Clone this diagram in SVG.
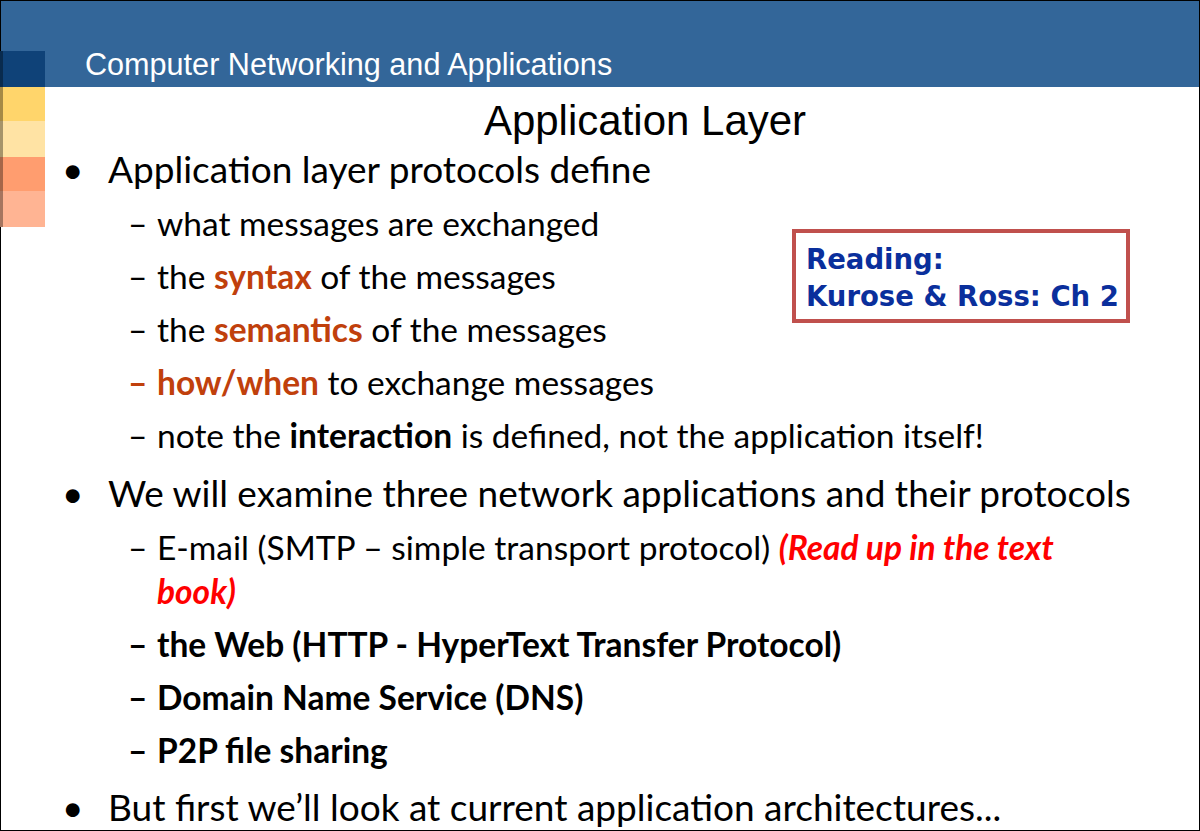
<svg xmlns="http://www.w3.org/2000/svg" width="1200" height="831" viewBox="0 0 1200 831">
<style>
.b{font-family:Lato,"Open Sans",sans-serif;fill:#000}
.l1{font-size:37px}
.l2{font-size:33.5px}
.o{fill:#c0400c;font-weight:bold}
.bd{font-weight:bold}
.r{fill:#ff0000;font-weight:bold;font-style:italic}
.rd{font-family:"Comic Sans MS","DejaVu Sans",sans-serif;font-size:27.5px;font-weight:bold;fill:#0a2f9c}
</style>
<rect width="1200" height="831" fill="#fff"/>
<rect x="0" y="0" width="1200" height="87" fill="#336699"/>
<rect x="0" y="0" width="1200" height="831" fill="none" stroke="#000" stroke-width="2"/>
<g id="squares">
<rect x="0" y="51" width="45" height="36" fill="#0f4278"/>
<rect x="0" y="87" width="45" height="34" fill="#ffd56b"/>
<rect x="0" y="121" width="45" height="36" fill="#ffe3a4"/>
<rect x="0" y="157" width="45" height="34" fill="#ff9d6f"/>
<rect x="0" y="191" width="45" height="36" fill="#ffb493"/>
<rect x="0" y="51" width="3" height="176" fill="#000" opacity="0.35"/>
</g>
<text x="85" y="75" font-family="Liberation Sans,Arial,sans-serif" font-size="30.6" fill="#fff">Computer Networking and Applications</text>
<text x="645" y="135" text-anchor="middle" font-family="Liberation Sans,Arial,sans-serif" font-size="42" fill="#000">Application Layer</text>
<g class="b">
<text class="l1" x="62" y="183">•</text><text class="l1" x="108" y="183">Application layer protocols define</text>
<text class="l2" x="128" y="236">–</text><text class="l2" x="157" y="236">what messages are exchanged</text>
<text class="l2" x="128" y="289">–</text><text class="l2" x="157" y="289">the <tspan class="o">syntax</tspan> of the messages</text>
<text class="l2" x="128" y="342">–</text><text class="l2" x="157" y="342">the <tspan class="o">semantics</tspan> of the messages</text>
<text class="l2" x="128" y="395" style="fill:#c0400c;font-weight:bold">–</text><text class="l2" x="157" y="395"><tspan class="o">how/when</tspan> to exchange messages</text>
<text class="l2" x="128" y="448">–</text><text class="l2" x="157" y="448">note the <tspan class="bd">interaction</tspan> is defined, not the application itself!</text>
<text class="l1" x="62" y="507">•</text><text class="l1" x="108" y="507">We will examine three network applications and their protocols</text>
<text class="l2" x="128" y="560">–</text><text class="l2" x="157" y="560">E-mail (SMTP – simple transport protocol) <tspan class="r">(Read up in the text</tspan></text>
<text class="l2 r" x="157" y="604">book)</text>
<text class="l2 bd" x="128" y="657">–</text><text class="l2 bd" x="157" y="657">the Web (HTTP - HyperText Transfer Protocol)</text>
<text class="l2 bd" x="128" y="710">–</text><text class="l2 bd" x="157" y="710">Domain Name Service (DNS)</text>
<text class="l2 bd" x="128" y="763">–</text><text class="l2 bd" x="157" y="763">P2P file sharing</text>
<text class="l1" x="62" y="821">•</text><text class="l1" x="108" y="821">But first we’ll look at current application architectures...</text>
</g>
<g id="reading">
<rect x="794" y="231" width="334" height="90" fill="#fff" stroke="#c0504d" stroke-width="4"/>
<text class="rd" x="806" y="269">Reading:</text>
<text class="rd" x="806" y="306">Kurose &amp; Ross: Ch 2</text>
</g>
</svg>
